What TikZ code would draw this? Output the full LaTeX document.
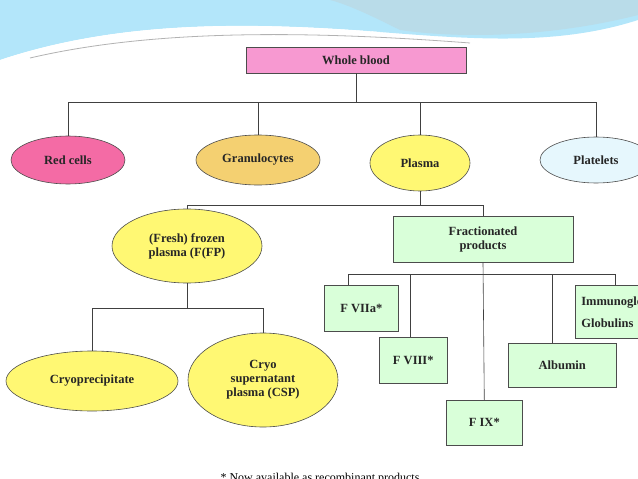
\documentclass[tikz,border=0pt]{standalone}
\usepackage{fontspec}
\setmainfont{Liberation Serif}
\usetikzlibrary{shapes.geometric}
\begin{document}
\begin{tikzpicture}[x=1pt,y=-1pt,
  lbl/.style={font=\bfseries\fontsize{12.5}{14}\selectfont,align=center,text=black!85},
  ell/.style={ellipse,draw=black!70,line width=0.6pt,inner sep=1pt},
  gbox/.style={draw=black!70,fill=green!15!white,line width=0.6pt,lbl},
  ln/.style={draw=black!75,line width=0.6pt}]
\useasboundingbox (0,0) rectangle (638,479);
\clip (0,0) rectangle (638,479);
% header waves
\fill[cyan!30!white] (0,0) -- (638,0) -- (638,20) .. controls (560,45) and (480,40) .. (380,32) .. controls (250,22) and (120,20) .. (0,60) -- cycle;
\fill[cyan!45!teal!30] (330,0) -- (638,0) -- (638,15) .. controls (560,35) and (470,40) .. (400,30) .. controls (380,20) and (350,5) .. (330,0) -- cycle;
\fill[white] (0,60) .. controls (120,20) and (250,22) .. (380,32) .. controls (250,28) and (120,30) .. (0,72) -- cycle;
\draw[gray!60,line width=0.8pt] (30,58) .. controls (150,30) and (300,30) .. (470,43);
% nodes
\node[draw=black!70,fill=magenta!40,line width=0.6pt,minimum width=220pt,minimum height=26pt,lbl] (wb) at (356,60) {Whole blood};
\node[ell,fill=magenta!45!pink,minimum width=114pt,minimum height=48pt,lbl] (rc) at (68,160) {Red cells};
\node[ell,fill=orange!45!yellow!70!brown!60,minimum width=124pt,minimum height=50pt,lbl] (gr) at (258,160) {Granulocytes};
\node[ell,fill=yellow!55,minimum width=100pt,minimum height=56pt,lbl] (pl) at (420,163) {Plasma};
\node[ell,fill=cyan!10,minimum width=112pt,minimum height=46pt,lbl] (pt) at (596,160) {Platelets};
\node[ell,fill=yellow!55,minimum width=150pt,minimum height=74pt,lbl] (ffp) at (187,246) {(Fresh) frozen\\plasma (F(FP)};
\node[gbox,minimum width=180pt,minimum height=46pt] (fr) at (483,239) {Fractionated\\products};
\node[ell,fill=yellow!55,minimum width=172pt,minimum height=60pt,lbl] (cry) at (92,381) {Cryoprecipitate};
\node[ell,fill=yellow!55,minimum width=150pt,minimum height=94pt,lbl] (csp) at (263,380) {Cryo\\supernatant\\plasma (CSP)};
\node[gbox,minimum width=74pt,minimum height=46pt,anchor=north west] (f7) at (324,285) {F VIIa*};
\node[gbox,minimum width=68pt,minimum height=46pt,anchor=north west] (f8) at (379,337) {F VIII*};
\node[gbox,minimum width=76pt,minimum height=45pt,anchor=north west] (f9) at (446,400) {F IX*};
\node[gbox,minimum width=80pt,minimum height=53pt,anchor=north west,align=left,text width=110pt,inner xsep=6pt] (im) at (575,285) {Immunoglobulins\\[8pt]Globulins};
\node[gbox,minimum width=108pt,minimum height=44pt,anchor=north west] (al) at (508,343) {Albumin};
\node[font=\fontsize{12}{14}\selectfont,anchor=north] (fn) at (320,470) {* Now available as recombinant products};
% connectors
\coordinate (h1) at (356,103);
\draw[ln] (wb.south) -- (h1);
\draw[ln] (rc.north) -- ++(0,-33) -| (pt.north);
\draw[ln] (h1 -| gr.north) -- (gr.north);
\draw[ln] (h1 -| pl.north) -- (pl.north);
\coordinate (h2) at (420,205);
\draw[ln] (pl.south) -- (h2);
\draw[ln] (ffp.north) -- (187,205) -| (fr.north);
\draw[ln] (ffp.south) -- (187,308);
\draw[ln] (cry.north) -- (92,308) -| (csp.north);
\draw[ln] (fr.south) -- (f9.north);
\coordinate (h3) at (348,274);
\draw[ln] (f7.north -| h3) -- (h3) -- (615,274) -- (615,285);
\draw[ln] (410,274) -- (410,337);
\draw[ln] (552,274) -- (552,343);
\end{tikzpicture}
\end{document}
